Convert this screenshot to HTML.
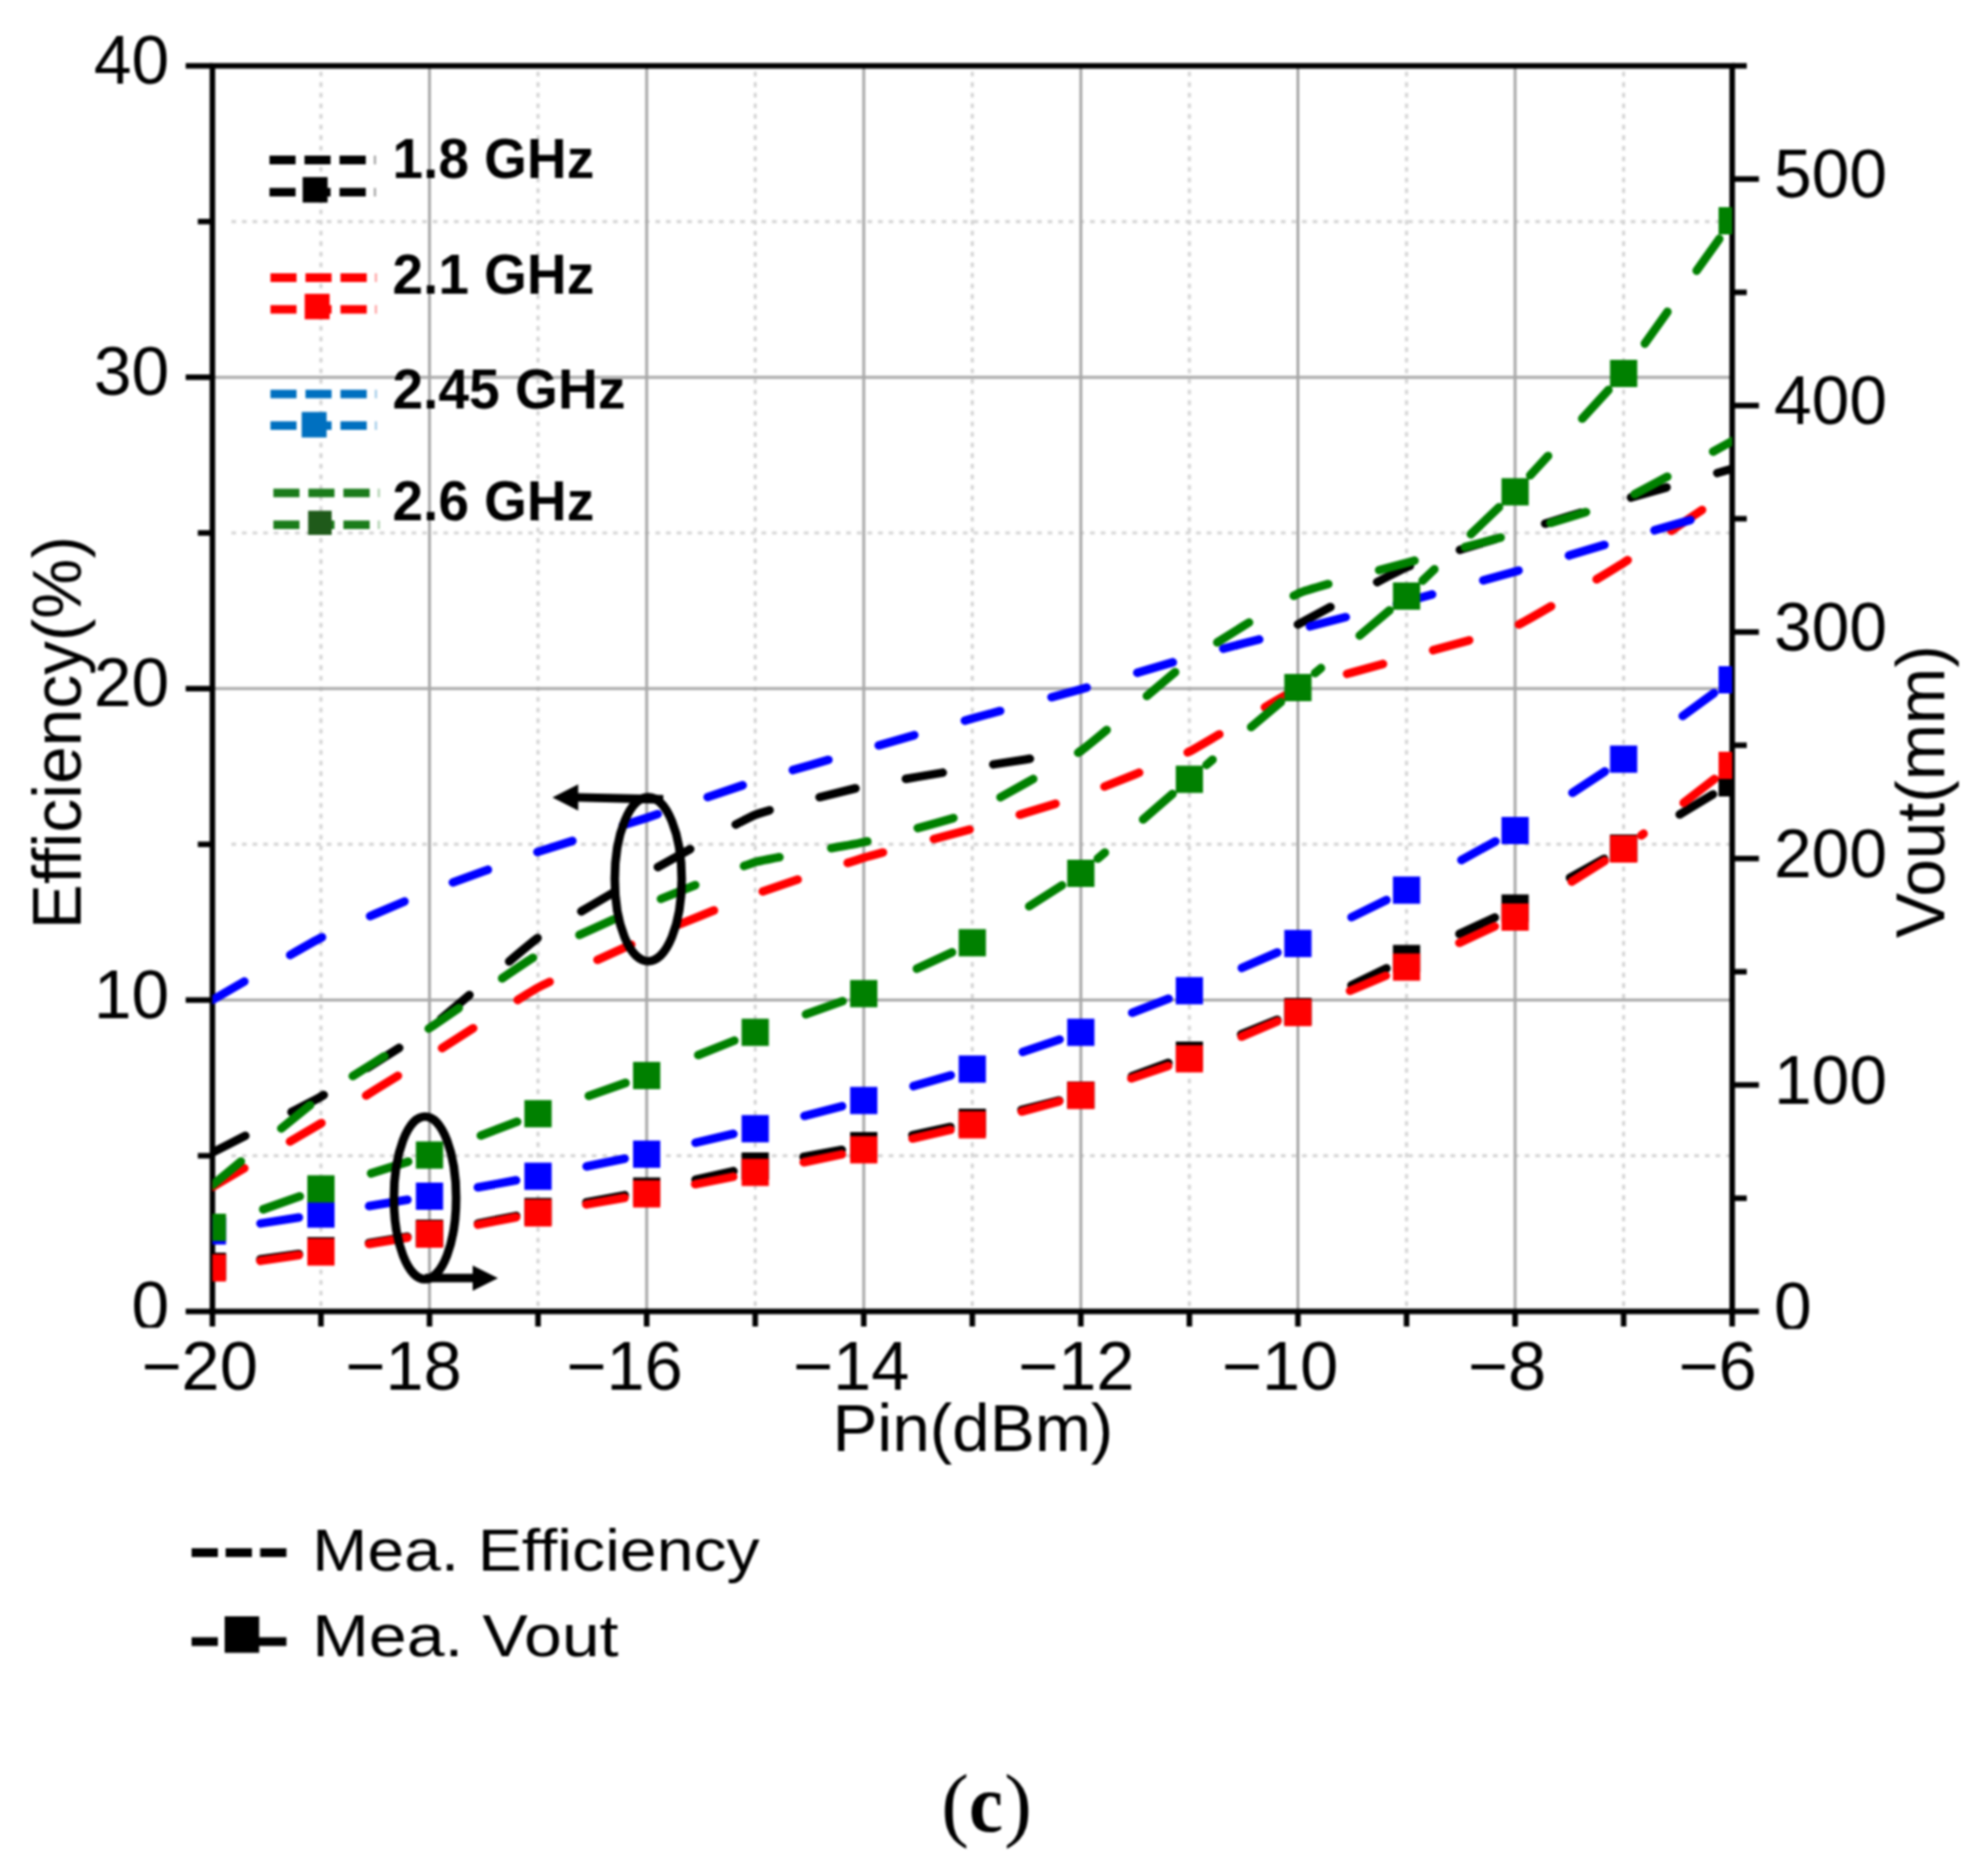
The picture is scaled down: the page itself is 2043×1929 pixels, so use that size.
<!DOCTYPE html>
<html lang="en"><head><meta charset="utf-8"><title>Figure (c)</title>
<style>html,body{margin:0;padding:0;background:#fff}svg{display:block;filter:blur(1px)}text{font-family:"Liberation Sans",sans-serif;fill:#000}.s{font-family:"Liberation Serif",serif}</style></head><body>
<svg width="2043" height="1929" viewBox="0 0 2043 1929">
<rect width="2043" height="1929" fill="#fff"/>
<defs><clipPath id="c0"><rect x="90" y="1290" width="100" height="75.3"/></clipPath><clipPath id="c1"><rect x="1815" y="1290" width="100" height="76.6"/></clipPath><clipPath id="pa"><rect x="218.4" y="67.7" width="1562.6" height="1280.8"/></clipPath></defs>
<g stroke="#d5d5d5" stroke-width="3.2" stroke-dasharray="4.8 6.1" fill="none">
<line x1="330.0" y1="73.7" x2="330.0" y2="1348.5"/>
<line x1="553.2" y1="73.7" x2="553.2" y2="1348.5"/>
<line x1="776.5" y1="73.7" x2="776.5" y2="1348.5"/>
<line x1="999.7" y1="73.7" x2="999.7" y2="1348.5"/>
<line x1="1222.9" y1="73.7" x2="1222.9" y2="1348.5"/>
<line x1="1446.2" y1="73.7" x2="1446.2" y2="1348.5"/>
<line x1="1669.4" y1="73.7" x2="1669.4" y2="1348.5"/>
<line x1="237.9" y1="1188.4" x2="1781.0" y2="1188.4"/>
<line x1="237.9" y1="868.2" x2="1781.0" y2="868.2"/>
<line x1="237.9" y1="548.0" x2="1781.0" y2="548.0"/>
<line x1="237.9" y1="227.8" x2="1781.0" y2="227.8"/>
</g>
<g stroke="#a8a8a8" stroke-width="3" fill="none">
<line x1="441.6" y1="67.7" x2="441.6" y2="1348.5"/>
<line x1="664.9" y1="67.7" x2="664.9" y2="1348.5"/>
<line x1="888.1" y1="67.7" x2="888.1" y2="1348.5"/>
<line x1="1111.3" y1="67.7" x2="1111.3" y2="1348.5"/>
<line x1="1334.5" y1="67.7" x2="1334.5" y2="1348.5"/>
<line x1="1557.8" y1="67.7" x2="1557.8" y2="1348.5"/>
<line x1="218.4" y1="1028.3" x2="1781.0" y2="1028.3"/>
<line x1="218.4" y1="708.1" x2="1781.0" y2="708.1"/>
<line x1="218.4" y1="387.9" x2="1781.0" y2="387.9"/>
</g>
<g stroke="#000" stroke-width="5.7" fill="none" stroke-linecap="butt">
<rect x="218.4" y="67.7" width="1562.6" height="1280.8"/>
<line x1="190.9" y1="1348.5" x2="218.4" y2="1348.5"/>
<line x1="203.4" y1="1188.4" x2="218.4" y2="1188.4"/>
<line x1="190.9" y1="1028.3" x2="218.4" y2="1028.3"/>
<line x1="203.4" y1="868.2" x2="218.4" y2="868.2"/>
<line x1="190.9" y1="708.1" x2="218.4" y2="708.1"/>
<line x1="203.4" y1="548.0" x2="218.4" y2="548.0"/>
<line x1="190.9" y1="387.9" x2="218.4" y2="387.9"/>
<line x1="203.4" y1="227.8" x2="218.4" y2="227.8"/>
<line x1="190.9" y1="67.7" x2="218.4" y2="67.7"/>
<line x1="1781.0" y1="1348.5" x2="1808.5" y2="1348.5"/>
<line x1="1781.0" y1="1232.1" x2="1796.0" y2="1232.1"/>
<line x1="1781.0" y1="1115.6" x2="1808.5" y2="1115.6"/>
<line x1="1781.0" y1="999.2" x2="1796.0" y2="999.2"/>
<line x1="1781.0" y1="882.8" x2="1808.5" y2="882.8"/>
<line x1="1781.0" y1="766.3" x2="1796.0" y2="766.3"/>
<line x1="1781.0" y1="649.9" x2="1808.5" y2="649.9"/>
<line x1="1781.0" y1="533.4" x2="1796.0" y2="533.4"/>
<line x1="1781.0" y1="417.0" x2="1808.5" y2="417.0"/>
<line x1="1781.0" y1="300.6" x2="1796.0" y2="300.6"/>
<line x1="1781.0" y1="184.1" x2="1808.5" y2="184.1"/>
<line x1="1781.0" y1="67.7" x2="1796.0" y2="67.7"/>
<line x1="218.4" y1="1348.5" x2="218.4" y2="1364.0"/>
<line x1="330.0" y1="1348.5" x2="330.0" y2="1364.0"/>
<line x1="441.6" y1="1348.5" x2="441.6" y2="1364.0"/>
<line x1="553.2" y1="1348.5" x2="553.2" y2="1364.0"/>
<line x1="664.9" y1="1348.5" x2="664.9" y2="1364.0"/>
<line x1="776.5" y1="1348.5" x2="776.5" y2="1364.0"/>
<line x1="888.1" y1="1348.5" x2="888.1" y2="1364.0"/>
<line x1="999.7" y1="1348.5" x2="999.7" y2="1364.0"/>
<line x1="1111.3" y1="1348.5" x2="1111.3" y2="1364.0"/>
<line x1="1222.9" y1="1348.5" x2="1222.9" y2="1364.0"/>
<line x1="1334.5" y1="1348.5" x2="1334.5" y2="1364.0"/>
<line x1="1446.2" y1="1348.5" x2="1446.2" y2="1364.0"/>
<line x1="1557.8" y1="1348.5" x2="1557.8" y2="1364.0"/>
<line x1="1669.4" y1="1348.5" x2="1669.4" y2="1364.0"/>
<line x1="1781.0" y1="1348.5" x2="1781.0" y2="1364.0"/>
</g>
<g clip-path="url(#pa)" fill="none" stroke-linecap="round" stroke-linejoin="round">
<path d="M218.4 1185.2 C224.9 1181.8 317.0 1135.0 330.0 1127.6 C343.0 1120.1 428.6 1066.6 441.6 1057.1 C454.7 1047.6 540.2 973.5 553.2 964.3 C566.3 955.0 651.8 905.4 664.9 898.0 C677.9 890.6 763.4 843.0 776.5 837.8 C789.5 832.6 875.1 811.5 888.1 808.6 C901.1 805.8 986.7 791.6 999.7 789.4 C1012.7 787.3 1104.8 773.1 1111.3 772.1" stroke="#000000" stroke-width="8.8" stroke-dasharray="38 53"/>
<path d="M1334.5 642.1 C1341.1 638.7 1433.1 588.7 1446.2 583.2 C1459.2 577.7 1544.7 552.1 1557.8 548.0 C1570.8 543.9 1656.4 517.6 1669.4 513.7 C1682.4 509.9 1774.5 483.9 1781.0 482.0" stroke="#000000" stroke-width="8.8" stroke-dasharray="38 54"/>
<path d="M218.4 1220.4 C224.9 1216.6 317.0 1162.9 330.0 1155.1 C343.0 1147.3 428.6 1094.1 441.6 1085.9 C454.7 1077.8 540.2 1022.6 553.2 1015.5 C566.3 1008.4 651.8 969.9 664.9 964.3 C677.9 958.7 763.4 924.2 776.5 919.4 C789.5 914.6 875.1 885.9 888.1 882.0 C901.1 878.0 986.7 855.9 999.7 852.2 C1012.7 848.5 1098.3 822.9 1111.3 818.2 C1124.3 813.6 1209.9 779.2 1222.9 772.8 C1236.0 766.4 1321.5 713.7 1334.5 708.1 C1347.6 702.5 1433.1 679.8 1446.2 676.1 C1459.2 672.3 1544.7 649.7 1557.8 644.1 C1570.8 638.4 1656.4 587.0 1669.4 578.7 C1682.4 570.5 1774.5 507.6 1781.0 503.2" stroke="#ff0000" stroke-width="8.8" stroke-dasharray="38 54"/>
<path d="M218.4 1028.3 C224.9 1024.6 317.0 970.8 330.0 964.3 C343.0 957.7 428.6 921.4 441.6 916.2 C454.7 911.1 540.2 880.3 553.2 875.9 C566.3 871.5 651.8 845.2 664.9 841.0 C677.9 836.7 763.4 807.3 776.5 803.2 C789.5 799.1 875.1 774.6 888.1 770.9 C901.1 767.1 986.7 742.5 999.7 738.8 C1012.7 735.2 1098.3 712.4 1111.3 708.7 C1124.3 705.1 1209.9 679.7 1222.9 676.1 C1236.0 672.5 1321.5 650.6 1334.5 647.3 C1347.6 643.9 1433.1 621.9 1446.2 618.4 C1459.2 615.0 1544.7 591.4 1557.8 587.7 C1570.8 584.0 1656.4 558.2 1669.4 554.4 C1682.4 550.6 1774.5 524.3 1781.0 522.4" stroke="#0000ff" stroke-width="8.8" stroke-dasharray="38 54"/>
<path d="M218.4 1218.5 C224.9 1213.2 317.0 1137.0 330.0 1127.6 C343.0 1118.1 428.6 1065.6 441.6 1057.1 C454.7 1048.6 540.2 988.9 553.2 981.6 C566.3 974.2 651.8 935.9 664.9 930.3 C677.9 924.8 763.4 890.2 776.5 886.5 C789.5 882.7 875.1 869.0 888.1 866.0 C901.1 863.0 986.7 840.4 999.7 834.9 C1012.7 829.4 1098.3 781.2 1111.3 772.1 C1124.3 763.1 1209.9 688.7 1222.9 679.3 C1236.0 669.8 1321.5 616.3 1334.5 610.4 C1347.6 604.6 1433.1 582.3 1446.2 578.7 C1459.2 575.1 1544.7 552.4 1557.8 548.6 C1570.8 544.8 1656.4 519.3 1669.4 513.7 C1682.4 508.2 1774.5 457.1 1781.0 453.5" stroke="#008000" stroke-width="8.8" stroke-dasharray="38 53.599999999999994"/>
<line x1="1761.3" y1="816.8" x2="1727.0" y2="837.4" stroke="#000000" stroke-width="8.8"/>
<line x1="1649.3" y1="883.1" x2="1614.2" y2="902.5" stroke="#000000" stroke-width="8.8"/>
<line x1="1536.9" y1="943.4" x2="1500.6" y2="960.3" stroke="#000000" stroke-width="8.8"/>
<line x1="1425.5" y1="995.7" x2="1389.5" y2="1013.2" stroke="#000000" stroke-width="8.8"/>
<line x1="1313.2" y1="1048.6" x2="1276.1" y2="1063.6" stroke="#000000" stroke-width="8.8"/>
<line x1="1201.3" y1="1092.9" x2="1163.8" y2="1106.7" stroke="#000000" stroke-width="8.8"/>
<line x1="1089.0" y1="1131.6" x2="1050.2" y2="1141.3" stroke="#000000" stroke-width="8.8"/>
<line x1="977.2" y1="1158.8" x2="938.1" y2="1167.2" stroke="#000000" stroke-width="8.8"/>
<line x1="865.5" y1="1182.3" x2="826.2" y2="1189.6" stroke="#000000" stroke-width="8.8"/>
<line x1="754.1" y1="1204.2" x2="715.1" y2="1213.1" stroke="#000000" stroke-width="8.8"/>
<line x1="642.3" y1="1229.0" x2="602.9" y2="1236.3" stroke="#000000" stroke-width="8.8"/>
<line x1="530.7" y1="1250.2" x2="491.5" y2="1258.0" stroke="#000000" stroke-width="8.8"/>
<line x1="418.9" y1="1271.7" x2="379.4" y2="1278.0" stroke="#000000" stroke-width="8.8"/>
<line x1="307.2" y1="1289.3" x2="267.7" y2="1294.9" stroke="#000000" stroke-width="8.8"/>
<rect x="204.4" y="1288.0" width="28" height="28" fill="#000000" stroke="none"/>
<rect x="316.0" y="1272.0" width="28" height="28" fill="#000000" stroke="none"/>
<rect x="427.6" y="1254.0" width="28" height="28" fill="#000000" stroke="none"/>
<rect x="539.2" y="1231.7" width="28" height="28" fill="#000000" stroke="none"/>
<rect x="650.9" y="1210.7" width="28" height="28" fill="#000000" stroke="none"/>
<rect x="762.5" y="1185.0" width="28" height="28" fill="#000000" stroke="none"/>
<rect x="874.1" y="1164.0" width="28" height="28" fill="#000000" stroke="none"/>
<rect x="985.7" y="1140.0" width="28" height="28" fill="#000000" stroke="none"/>
<rect x="1097.3" y="1112.0" width="28" height="28" fill="#000000" stroke="none"/>
<rect x="1208.9" y="1071.0" width="28" height="28" fill="#000000" stroke="none"/>
<rect x="1320.5" y="1026.0" width="28" height="28" fill="#000000" stroke="none"/>
<rect x="1432.2" y="971.6" width="28" height="28" fill="#000000" stroke="none"/>
<rect x="1543.8" y="919.7" width="28" height="28" fill="#000000" stroke="none"/>
<rect x="1655.4" y="858.0" width="28" height="28" fill="#000000" stroke="none"/>
<rect x="1767.0" y="791.0" width="28" height="28" fill="#000000" stroke="none"/>
<line x1="1762.8" y1="801.0" x2="1731.1" y2="825.5" stroke="#ff0000" stroke-width="8.8"/>
<line x1="1689.9" y1="857.2" x2="1687.6" y2="859.0" stroke="#ff0000" stroke-width="8.8"/>
<line x1="1649.9" y1="885.2" x2="1616.0" y2="906.5" stroke="#ff0000" stroke-width="8.8"/>
<line x1="1536.9" y1="952.6" x2="1500.5" y2="969.4" stroke="#ff0000" stroke-width="8.8"/>
<line x1="1424.9" y1="1003.3" x2="1388.1" y2="1018.8" stroke="#ff0000" stroke-width="8.8"/>
<line x1="1313.4" y1="1050.2" x2="1276.6" y2="1065.9" stroke="#ff0000" stroke-width="8.8"/>
<line x1="1201.1" y1="1096.1" x2="1163.2" y2="1108.9" stroke="#ff0000" stroke-width="8.8"/>
<line x1="1089.1" y1="1132.4" x2="1050.5" y2="1142.9" stroke="#ff0000" stroke-width="8.8"/>
<line x1="977.3" y1="1161.8" x2="938.3" y2="1170.7" stroke="#ff0000" stroke-width="8.8"/>
<line x1="865.6" y1="1187.0" x2="826.4" y2="1195.1" stroke="#ff0000" stroke-width="8.8"/>
<line x1="753.9" y1="1210.0" x2="714.7" y2="1217.7" stroke="#ff0000" stroke-width="8.8"/>
<line x1="642.2" y1="1231.6" x2="602.8" y2="1238.5" stroke="#ff0000" stroke-width="8.8"/>
<line x1="530.7" y1="1251.6" x2="491.4" y2="1259.3" stroke="#ff0000" stroke-width="8.8"/>
<line x1="418.9" y1="1272.7" x2="379.5" y2="1279.2" stroke="#ff0000" stroke-width="8.8"/>
<line x1="307.3" y1="1290.7" x2="267.7" y2="1296.5" stroke="#ff0000" stroke-width="8.8"/>
<rect x="204.4" y="1289.7" width="28" height="28" fill="#ff0000" stroke="none"/>
<rect x="316.0" y="1273.4" width="28" height="28" fill="#ff0000" stroke="none"/>
<rect x="427.6" y="1255.0" width="28" height="28" fill="#ff0000" stroke="none"/>
<rect x="539.2" y="1233.2" width="28" height="28" fill="#ff0000" stroke="none"/>
<rect x="650.9" y="1213.6" width="28" height="28" fill="#ff0000" stroke="none"/>
<rect x="762.5" y="1191.5" width="28" height="28" fill="#ff0000" stroke="none"/>
<rect x="874.1" y="1168.3" width="28" height="28" fill="#ff0000" stroke="none"/>
<rect x="985.7" y="1142.6" width="28" height="28" fill="#ff0000" stroke="none"/>
<rect x="1097.3" y="1112.4" width="28" height="28" fill="#ff0000" stroke="none"/>
<rect x="1208.9" y="1074.7" width="28" height="28" fill="#ff0000" stroke="none"/>
<rect x="1320.5" y="1027.2" width="28" height="28" fill="#ff0000" stroke="none"/>
<rect x="1432.2" y="980.4" width="28" height="28" fill="#ff0000" stroke="none"/>
<rect x="1543.8" y="929.0" width="28" height="28" fill="#ff0000" stroke="none"/>
<rect x="1655.4" y="859.0" width="28" height="28" fill="#ff0000" stroke="none"/>
<rect x="1767.0" y="773.0" width="28" height="28" fill="#ff0000" stroke="none"/>
<line x1="1762.4" y1="712.6" x2="1730.1" y2="736.2" stroke="#0000ff" stroke-width="8.8"/>
<line x1="1650.2" y1="793.2" x2="1616.7" y2="815.2" stroke="#0000ff" stroke-width="8.8"/>
<line x1="1537.6" y1="865.1" x2="1502.6" y2="884.3" stroke="#0000ff" stroke-width="8.8"/>
<line x1="1425.5" y1="925.5" x2="1389.6" y2="943.1" stroke="#0000ff" stroke-width="8.8"/>
<line x1="1313.4" y1="979.4" x2="1276.8" y2="995.3" stroke="#0000ff" stroke-width="8.8"/>
<line x1="1201.5" y1="1026.9" x2="1164.1" y2="1041.3" stroke="#0000ff" stroke-width="8.8"/>
<line x1="1089.5" y1="1068.9" x2="1051.6" y2="1081.7" stroke="#0000ff" stroke-width="8.8"/>
<line x1="977.6" y1="1105.7" x2="939.2" y2="1116.8" stroke="#0000ff" stroke-width="8.8"/>
<line x1="865.8" y1="1137.4" x2="827.1" y2="1147.4" stroke="#0000ff" stroke-width="8.8"/>
<line x1="754.1" y1="1165.9" x2="715.1" y2="1175.0" stroke="#0000ff" stroke-width="8.8"/>
<line x1="642.3" y1="1191.4" x2="603.1" y2="1199.4" stroke="#0000ff" stroke-width="8.8"/>
<line x1="530.6" y1="1213.7" x2="491.3" y2="1220.9" stroke="#0000ff" stroke-width="8.8"/>
<line x1="418.9" y1="1233.7" x2="379.5" y2="1240.2" stroke="#0000ff" stroke-width="8.8"/>
<line x1="307.3" y1="1251.9" x2="267.8" y2="1258.0" stroke="#0000ff" stroke-width="8.8"/>
<rect x="204.4" y="1251.7" width="28" height="28" fill="#0000ff" stroke="none"/>
<rect x="316.0" y="1234.4" width="28" height="28" fill="#0000ff" stroke="none"/>
<rect x="427.6" y="1216.0" width="28" height="28" fill="#0000ff" stroke="none"/>
<rect x="539.2" y="1195.5" width="28" height="28" fill="#0000ff" stroke="none"/>
<rect x="650.9" y="1172.8" width="28" height="28" fill="#0000ff" stroke="none"/>
<rect x="762.5" y="1146.6" width="28" height="28" fill="#0000ff" stroke="none"/>
<rect x="874.1" y="1117.6" width="28" height="28" fill="#0000ff" stroke="none"/>
<rect x="985.7" y="1085.3" width="28" height="28" fill="#0000ff" stroke="none"/>
<rect x="1097.3" y="1047.5" width="28" height="28" fill="#0000ff" stroke="none"/>
<rect x="1208.9" y="1004.7" width="28" height="28" fill="#0000ff" stroke="none"/>
<rect x="1320.5" y="956.2" width="28" height="28" fill="#0000ff" stroke="none"/>
<rect x="1432.2" y="901.3" width="28" height="28" fill="#0000ff" stroke="none"/>
<rect x="1543.8" y="840.0" width="28" height="28" fill="#0000ff" stroke="none"/>
<rect x="1655.4" y="766.6" width="28" height="28" fill="#0000ff" stroke="none"/>
<rect x="1767.0" y="685.0" width="28" height="28" fill="#0000ff" stroke="none"/>
<line x1="1767.7" y1="245.7" x2="1744.5" y2="278.3" stroke="#008000" stroke-width="8.8"/>
<line x1="1714.4" y1="320.7" x2="1691.2" y2="353.3" stroke="#008000" stroke-width="8.8"/>
<line x1="1653.8" y1="401.0" x2="1626.8" y2="430.4" stroke="#008000" stroke-width="8.8"/>
<line x1="1591.7" y1="468.8" x2="1573.3" y2="488.7" stroke="#008000" stroke-width="8.8"/>
<line x1="1541.2" y1="521.6" x2="1512.3" y2="549.3" stroke="#008000" stroke-width="8.8"/>
<line x1="1474.8" y1="585.4" x2="1462.7" y2="597.0" stroke="#008000" stroke-width="8.8"/>
<line x1="1428.6" y1="627.7" x2="1398.0" y2="653.5" stroke="#008000" stroke-width="8.8"/>
<line x1="1358.2" y1="687.0" x2="1352.1" y2="692.2" stroke="#008000" stroke-width="8.8"/>
<line x1="1317.0" y1="721.8" x2="1286.4" y2="747.7" stroke="#008000" stroke-width="8.8"/>
<line x1="1246.7" y1="781.2" x2="1240.5" y2="786.5" stroke="#008000" stroke-width="8.8"/>
<line x1="1205.5" y1="816.4" x2="1175.3" y2="842.6" stroke="#008000" stroke-width="8.8"/>
<line x1="1136.0" y1="876.6" x2="1128.7" y2="882.9" stroke="#008000" stroke-width="8.8"/>
<line x1="1091.9" y1="910.4" x2="1058.2" y2="931.9" stroke="#008000" stroke-width="8.8"/>
<line x1="978.9" y1="979.2" x2="942.7" y2="996.1" stroke="#008000" stroke-width="8.8"/>
<line x1="866.4" y1="1029.4" x2="828.7" y2="1042.9" stroke="#008000" stroke-width="8.8"/>
<line x1="755.1" y1="1070.0" x2="717.9" y2="1084.8" stroke="#008000" stroke-width="8.8"/>
<line x1="643.2" y1="1113.5" x2="605.4" y2="1126.8" stroke="#008000" stroke-width="8.8"/>
<line x1="531.7" y1="1153.4" x2="494.4" y2="1167.6" stroke="#008000" stroke-width="8.8"/>
<line x1="419.7" y1="1194.5" x2="381.5" y2="1206.5" stroke="#008000" stroke-width="8.8"/>
<line x1="308.3" y1="1230.2" x2="270.6" y2="1243.5" stroke="#008000" stroke-width="8.8"/>
<rect x="204.4" y="1248.0" width="28" height="28" fill="#008000" stroke="none"/>
<rect x="316.0" y="1208.5" width="28" height="28" fill="#008000" stroke="none"/>
<rect x="427.6" y="1173.7" width="28" height="28" fill="#008000" stroke="none"/>
<rect x="539.2" y="1131.2" width="28" height="28" fill="#008000" stroke="none"/>
<rect x="650.9" y="1091.9" width="28" height="28" fill="#008000" stroke="none"/>
<rect x="762.5" y="1047.5" width="28" height="28" fill="#008000" stroke="none"/>
<rect x="874.1" y="1007.7" width="28" height="28" fill="#008000" stroke="none"/>
<rect x="985.7" y="955.4" width="28" height="28" fill="#008000" stroke="none"/>
<rect x="1097.3" y="884.0" width="28" height="28" fill="#008000" stroke="none"/>
<rect x="1208.9" y="787.3" width="28" height="28" fill="#008000" stroke="none"/>
<rect x="1320.5" y="693.0" width="28" height="28" fill="#008000" stroke="none"/>
<rect x="1432.2" y="598.9" width="28" height="28" fill="#008000" stroke="none"/>
<rect x="1543.8" y="491.7" width="28" height="28" fill="#008000" stroke="none"/>
<rect x="1655.4" y="370.0" width="28" height="28" fill="#008000" stroke="none"/>
<rect x="1767.0" y="213.0" width="28" height="28" fill="#008000" stroke="none"/>
</g>
<g font-size="69.6">
<text x="174" y="1366.8" text-anchor="end" clip-path="url(#c0)">0</text>
<text x="174" y="1046.6" text-anchor="end">10</text>
<text x="174" y="726.4" text-anchor="end">20</text>
<text x="174" y="406.2" text-anchor="end">30</text>
<text x="174" y="86.0" text-anchor="end">40</text>
<text x="1824" y="1367.5" clip-path="url(#c1)">0</text>
<text x="1824" y="1134.6">100</text>
<text x="1824" y="901.8">200</text>
<text x="1824" y="668.9">300</text>
<text x="1824" y="436.0">400</text>
<text x="1824" y="203.1">500</text>
<text x="145.4" y="1429" font-size="70.6">−20</text>
<text x="355.0" y="1429" font-size="70.6">−18</text>
<text x="582.2" y="1429" font-size="70.6">−16</text>
<text x="815.2" y="1429" font-size="70.6">−14</text>
<text x="1046.7" y="1429" font-size="70.6">−12</text>
<text x="1256.3" y="1429" font-size="70.6">−10</text>
<text x="1509.2" y="1429" font-size="70.6">−8</text>
<text x="1725.8" y="1429" font-size="70.6">−6</text>
<text x="1000.3" y="1492" font-size="69.3" text-anchor="middle">Pin(dBm)</text>
<text transform="translate(83 753.3) rotate(-90)" font-size="69.5" text-anchor="middle">Efficiency(%)</text>
<text transform="translate(1999 814) rotate(-90)" font-size="69.5" text-anchor="middle">Vout(mm)</text>
</g>
<g stroke="#000000" stroke-width="8.8" fill="none">
<path d="M277.1 164.5h26.8M313.1 164.5h26.8M349.1 164.5h27M277.1 197.6h26.8M313.1 197.6h26.8M349.1 197.6h27"/>
<path opacity="0.4" d="M384.5 164.5h2M384.5 197.6h2"/>
</g>
<rect x="311.2" y="182.1" width="25.6" height="26.200000000000003" fill="#000000"/>
<text x="403.5" y="183.1" font-size="57.5" font-weight="bold" textLength="207.5" lengthAdjust="spacingAndGlyphs">1.8 GHz</text>
<g stroke="#ff0000" stroke-width="8.8" fill="none">
<path d="M278.1 285.5h26.8M314.1 285.5h26.8M350.1 285.5h27M278.1 318.1h26.8M314.1 318.1h26.8M350.1 318.1h27"/>
<path opacity="0.4" d="M385.5 285.5h2M385.5 318.1h2"/>
</g>
<rect x="313.3" y="302.1" width="25.6" height="26.200000000000003" fill="#ff0000"/>
<text x="403.5" y="302.1" font-size="57.5" font-weight="bold" textLength="207.5" lengthAdjust="spacingAndGlyphs">2.1 GHz</text>
<g stroke="#0070c0" stroke-width="8.8" fill="none">
<path d="M278.1 405.2h26.8M314.1 405.2h26.8M350.1 405.2h27M278.1 437.7h26.8M314.1 437.7h26.8M350.1 437.7h27"/>
<path opacity="0.4" d="M385.5 405.2h2M385.5 437.7h2"/>
</g>
<rect x="310.2" y="423.6" width="25.6" height="26.200000000000003" fill="#0070c0"/>
<text x="403.5" y="419.8" font-size="57.5" font-weight="bold" textLength="239.5" lengthAdjust="spacingAndGlyphs">2.45 GHz</text>
<g stroke="#1b7c1b" stroke-width="8.8" fill="none">
<path d="M281.1 506.8h26.8M317.1 506.8h26.8M353.1 506.8h27M281.1 539.7h26.8M317.1 539.7h26.8M353.1 539.7h27"/>
<path opacity="0.4" d="M388.5 506.8h2M388.5 539.7h2"/>
</g>
<rect x="316.8" y="525.2" width="24.2" height="24.8" fill="#1f5a1a"/>
<text x="403.5" y="534.9" font-size="57.5" font-weight="bold" textLength="207.5" lengthAdjust="spacingAndGlyphs">2.6 GHz</text>
<g stroke="#000" stroke-width="9" fill="none">
<path d="M197 1596.4h27M232 1596.4h27M267.5 1596.4h27"/>
<path d="M197 1688h27M266 1688h28.5"/>
</g>
<rect x="231" y="1662" width="35.5" height="37.5" fill="#000"/>
<text x="321" y="1615.1" font-size="62" textLength="460" lengthAdjust="spacingAndGlyphs">Mea. Efficiency</text>
<text x="321" y="1703.2" font-size="62" textLength="315" lengthAdjust="spacingAndGlyphs">Mea. Vout</text>
<text class="s" y="1883" font-size="85.5"><tspan x="967.8">(</tspan><tspan x="996.3" font-weight="bold" textLength="35" lengthAdjust="spacingAndGlyphs">c</tspan><tspan x="1032.4">)</tspan></text>
<g stroke="#000" stroke-width="8.8" fill="none">
<ellipse cx="666.5" cy="904" rx="34.4" ry="84.3"/>
<path d="M682 822 L592 819.8"/>
<ellipse cx="437" cy="1231.7" rx="32" ry="83.6"/>
<path d="M437 1314.2 H488"/>
</g>
<path d="M568 820 L594.5 806.5 V833.5Z" fill="#000"/>
<path d="M512 1314.2 L486 1301.2 V1327.2Z" fill="#000"/>
</svg></body></html>
